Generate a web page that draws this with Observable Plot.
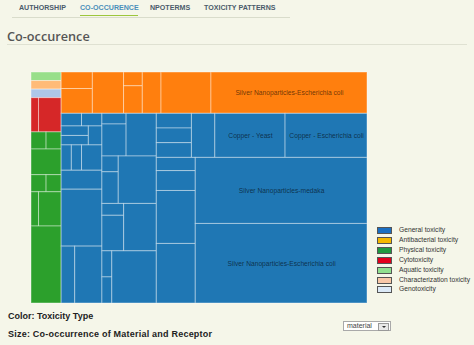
<!DOCTYPE html>
<html>
<head>
<meta charset="utf-8">
<script src="https://cdn.jsdelivr.net/npm/d3@7"></script>
<script src="https://cdn.jsdelivr.net/npm/@observablehq/plot@0.6"></script>
<style>
  html, body { margin: 0; padding: 0; background: #f5f6e9; width: 474px; height: 345px; overflow: hidden; }
  body { font-family: "Liberation Sans", Arial, sans-serif; }
  #page { position: relative; width: 474px; height: 345px; }
  #chart { position: absolute; left: 0; top: 0; }
  .abs { position: absolute; white-space: nowrap; }
  .tab { font-weight: bold; font-size: 7.1px; line-height: 7px; top: 5px; color: #4b5b6b; }
  .tab.active { color: #4a8fba; }
  .title { left: 7px; top: 29px; font-family: "Open Sans", sans-serif; font-weight: 600; font-size: 12.7px; line-height: 14px; color: #555; }
  .note { left: 8px; font-weight: bold; font-size: 9px; line-height: 10px; color: #222; }
  .legend-row { left: 377px; height: 8px; }
  .legend-row .sw { position: absolute; left: 0; top: 1px; width: 13px; height: 5px; border: 1px solid #555; }
  .legend-row .lb { position: absolute; left: 22px; top: 0; font-size: 6.7px; line-height: 8px; color: #333; }
  #select { left: 343px; top: 321px; width: 46px; height: 8px; border: 1px solid #a9a9a9; background: #fff; }
  #select .txt { position: absolute; left: 3px; top: 0; font-size: 7px; line-height: 8px; color: #444; }
  #select .btn { position: absolute; right: 1px; top: 0.5px; width: 9px; height: 6px; border: 1px solid #999; background: #e9e9e9; }
  #select .btn::after { content: ""; position: absolute; left: 2.5px; top: 2px; border-left: 2px solid transparent; border-right: 2px solid transparent; border-top: 2px solid #333; }
</style>
</head>
<body>
<div id="page">
  <div class="abs tab" style="left:19px">AUTHORSHIP</div>
  <div class="abs tab active" style="left:80px">CO-OCCURENCE</div>
  <div class="abs tab" style="left:150px">NPOTERMS</div>
  <div class="abs tab" style="left:204px">TOXICITY PATTERNS</div>
  <div class="abs" style="left:80px;top:14.5px;width:58px;height:1.5px;background:#9cc63c"></div>
  <div class="abs" style="left:12px;top:17px;width:278px;height:1px;background:#d9dccb"></div>
  <div class="abs title">Co-occurence</div>
  <div class="abs" style="left:7px;top:44px;width:460px;height:1px;background:#dfe1d2"></div>
  <div id="chart"></div>
  <div id="legend"></div>
  <div class="abs note" style="top:311px">Color: Toxicity Type</div>
  <div class="abs note" style="top:329px;letter-spacing:0.22px">Size: Co-occurrence of Material and Receptor</div>
  <div class="abs" id="select"><span class="txt">material</span><div class="btn"></div></div>
</div>
<script>
// Toxicity types, in legend order, with their treemap and legend colours
const types = ["General toxicity", "Antibacterial toxicity", "Physical toxicity", "Cytotoxicity",
               "Aquatic toxicity", "Characterization toxicity", "Genotoxicity"];
const cellColors = ["#1f77b4", "#ff7f0e", "#2ca02c", "#d62728", "#98df8a", "#ffbb78", "#aec7e8"];
const legendColors = ["#1b6fc2", "#f4b800", "#1f9a40", "#e2001c", "#90e090", "#f8c8a8", "#dbe9f7"];

// Co-occurrence counts of material–receptor pairs per toxicity type,
// nested in the order the slice-and-dice strips are cut.
const general = [
  [[1, 1], [[1, 1], 1], [1, 1, 2], 3, 9, [3, 6]],
  [[[1, 3], 5], [[1, 2], 7], [[1, 3], 6], [[1, 1], 9]],
  [
    [[2, 2, 2], 4, {pair: "Copper - Yeast", count: 12}, {pair: "Copper - Escherichia coli", count: 14}],
    [[2, 3, 8, 9], [{pair: "Silver Nanoparticles-medaka", count: 44},
                    {pair: "Silver Nanoparticles-Escherichia coli", count: 53}]]
  ]
];
const antibacterial = [[2, 3], 5, [1, 2], 3, 8, {pair: "Silver Nanoparticles-Escherichia coli", count: 25}];
const physical = [[[1, 1], 3, [1, 1], [1, 3], 9]];
const cytotoxicity = [1, 3];
const aquatic = [1];
const characterization = [1];
const genotoxicity = [1];

const countsByType = [general, antibacterial, physical, cytotoxicity, aquatic, characterization, genotoxicity];
const group = i => ({type: i, children: countsByType[i]});

// Small types in a column on the left, antibacterial over general on the right
const tree = {children: [
  {children: [group(4), group(5), group(6), group(3), group(2)]},
  {children: [group(1), group(0)]}
]};

const W = 336, H = 231;
const root = d3.hierarchy(tree, d => (d && d.children) ? d.children : (Array.isArray(d) ? d : null))
  .sum(d => typeof d === "number" ? d : (d && d.count) || 0);
d3.treemap().size([W, H]).tile(d3.treemapSliceDice)(root);

const typeOf = n => { while (n && (n.data == null || n.data.type === undefined)) n = n.parent; return n.data.type; };
const cells = root.leaves().map(n => ({
  x1: n.x0, x2: n.x1, y1: n.y0, y2: n.y1,
  type: types[typeOf(n)],
  count: n.value,
  pair: n.data && n.data.pair ? n.data.pair : null
}));

const chart = Plot.plot({
  width: 474, height: 345,
  marginLeft: 31, marginRight: 107, marginTop: 72, marginBottom: 42,
  style: {background: "transparent"},
  x: {domain: [0, W], axis: null},
  y: {domain: [0, H], reverse: true, axis: null},
  color: {domain: types, range: cellColors},
  marks: [
    Plot.rect(cells, {x1: "x1", x2: "x2", y1: "y1", y2: "y2", fill: "type",
      stroke: "white", strokeOpacity: 0.4, strokeWidth: 1}),
    Plot.text(cells.filter(d => d.pair), {
      x: d => (d.x1 + d.x2) / 2, y: d => (d.y1 + d.y2) / 2, text: "pair",
      fill: "black", fillOpacity: 0.6, fontSize: 6.7,
      fontFamily: "Liberation Sans, Arial, sans-serif"
    })
  ]
});
document.getElementById("chart").appendChild(chart);

// Legend beside the treemap
const legend = document.getElementById("legend");
types.forEach((t, i) => {
  const row = document.createElement("div");
  row.className = "abs legend-row";
  row.style.top = (226 + i * 9.9) + "px";
  row.innerHTML = `<div class="sw" style="background:${legendColors[i]}"></div><div class="lb">${t}</div>`;
  legend.appendChild(row);
});
</script>
</body>
</html>
